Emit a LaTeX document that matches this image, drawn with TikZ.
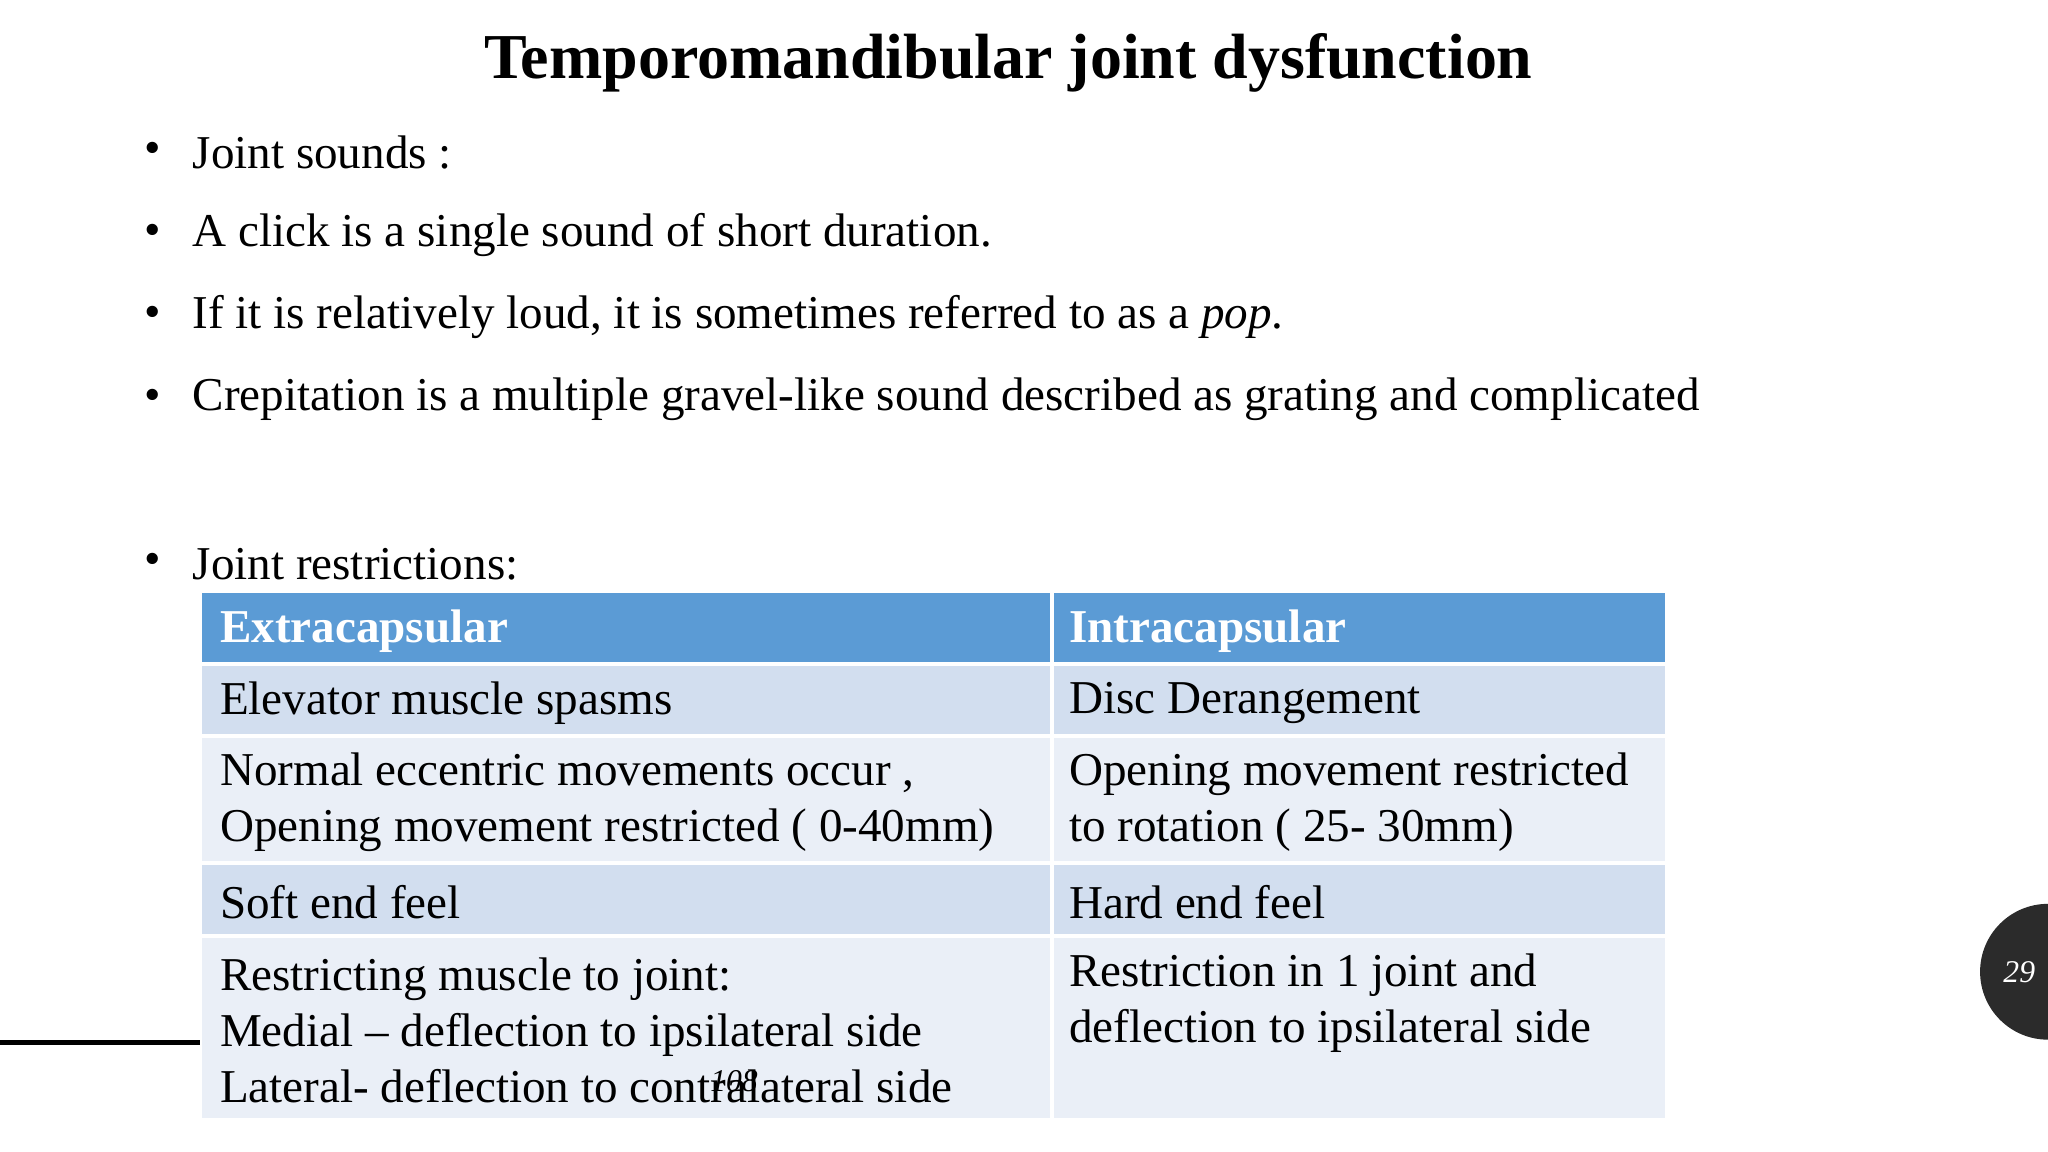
\documentclass[tikz,border=0pt]{standalone}
\usepackage{fontspec}
\setmainfont{Liberation Serif}
\definecolor{headblue}{HTML}{5B9BD5}
\definecolor{rowdark}{HTML}{D2DEEF}
\definecolor{rowlight}{HTML}{EAEFF7}
\definecolor{pagedot}{HTML}{2B2B2B}
\tikzset{
  bullet/.style={anchor=west, font=\fontsize{13.4}{16}\selectfont, inner sep=0pt},
  cell/.style={anchor=west, align=left, font=\fontsize{13.4}{16}\selectfont, inner sep=0pt},
  headcell/.style={cell, text=white, font=\fontsize{13.4}{16}\selectfont\bfseries},
}
\begin{document}
\begin{tikzpicture}[x=0.013061cm, y=-0.013061cm]
    \useasboundingbox (0,0) rectangle (1568,882);
    \node[font=\fontsize{18.2}{22}\selectfont\bfseries] (title) at (772,48) {Temporomandibular joint dysfunction};

    % bullets
    \foreach \y/\t [count=\i] in {117/{Joint sounds :},
        180/{A click is a single sound of short duration.},
        243/{If it is relatively loud, it is sometimes referred to as a \textit{pop}.},
        306/{Crepitation is a multiple gravel-like sound described as grating and complicated},
        432/{Joint restrictions:}}{
        \node[bullet] (dot\i) at (110,\y) {\textbullet};
        \node[bullet] (item\i) at (147,\y) {\t};
    }

    % table
    \fill[headblue] (155,454) rectangle (804,507);
    \fill[headblue] (807,454) rectangle (1275,507);
    \foreach \ya/\yb/\c in {510/562/rowdark, 565/659/rowlight, 662/715/rowdark, 718/856/rowlight}{
        \fill[\c] (155,\ya) rectangle (804,\yb);
        \fill[\c] (807,\ya) rectangle (1275,\yb);
    }
    \node[headcell] (hExtra) at (168,483) {Extracapsular};
    \node[headcell] (hIntra) at (818,483) {Intracapsular};
    \node[cell] (e1) at (168,538) {Elevator muscle spasms};
    \node[cell] (i1) at (818,538) {Disc Derangement};
    \node[cell] (e2) at (168,614) {Normal eccentric movements occur ,\\Opening movement restricted ( 0-40mm)};
    \node[cell] (i2) at (818,614) {Opening movement restricted\\to rotation ( 25- 30mm)};
    \node[cell] (e3) at (168,691) {Soft end feel};
    \node[cell] (i3) at (818,691) {Hard end feel};
    \node[cell] (e4) at (168,789) {Restricting muscle to joint:\\Medial -- deflection to ipsilateral side\\Lateral- deflection to contralateral side};
    \node[cell] (i4) at (818,768) {Restriction in 1 joint and\\deflection to ipsilateral side};

    \draw[line width=1.5pt] (0,798) -- (153,798);
    \node[font=\fontsize{9}{10}\selectfont\itshape] (slideno) at (562,828) {108};

    \fill[pagedot] (1568,744) circle (52);
    \node[text=white, font=\fontsize{9}{10}\selectfont\itshape] (pageno) at (1546,744) {29};
\end{tikzpicture}
\end{document}
